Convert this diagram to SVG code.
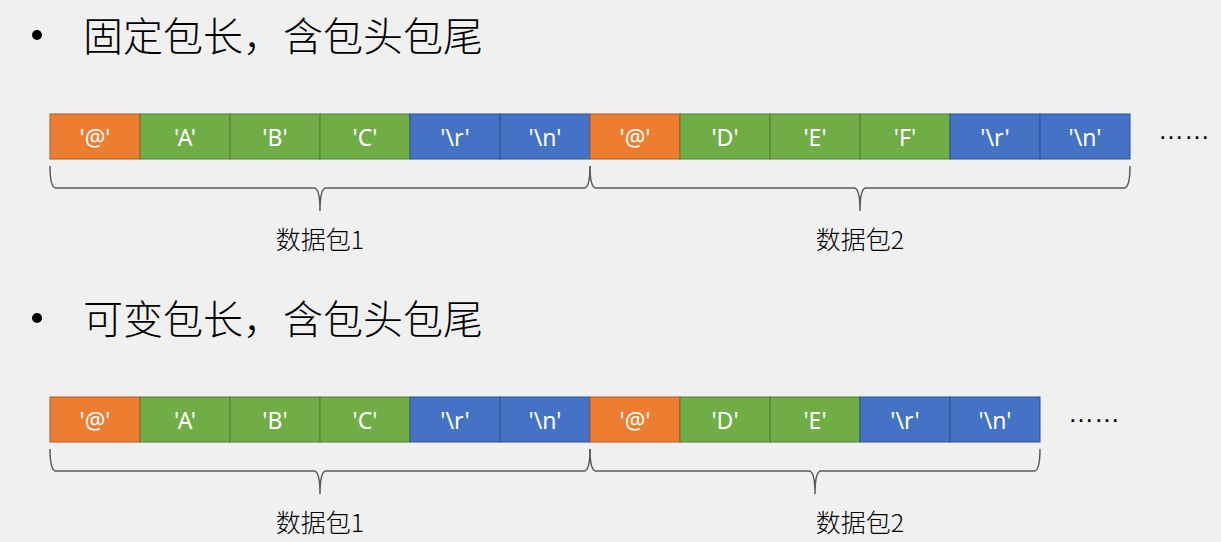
<svg xmlns="http://www.w3.org/2000/svg" width="1221" height="542" viewBox="0 0 1221 542">
<style>
.t{font-family:"Noto Sans CJK SC","Noto Sans",sans-serif;fill:#000;font-weight:300}
.h{font-size:40px}
.c{font-family:"Noto Sans","Liberation Sans",sans-serif;font-size:23px;fill:#fff;text-anchor:middle}
.l{font-family:"Noto Sans CJK SC","Noto Sans",sans-serif;font-size:25px;fill:#000;text-anchor:middle;font-weight:300}
.o{fill:#ED7D31;stroke:#AE5A21;stroke-width:1}
.g{fill:#70AD47;stroke:#507E32;stroke-width:1}
.b{fill:#4472C4;stroke:#2F528F;stroke-width:1}
.br{fill:none;stroke:#5a5a5a;stroke-width:1.5}
.d{font-family:"Liberation Sans",sans-serif;font-size:26px;fill:#000}
</style>
<rect width="1221" height="542" fill="#F0F0F0"/>
<g id="title1">
<circle cx="37" cy="35" r="5" fill="#000"/>
<text class="t h" x="83" y="51">固定包长，含包头包尾</text>
</g>
<g id="title2">
<circle cx="37" cy="318" r="5" fill="#000"/>
<text class="t h" x="83" y="334">可变包长，含包头包尾</text>
</g>
<g id="row1">
<g id="r1c1"><rect class="o" x="50" y="114" width="90" height="45"/><text class="c" x="95" y="146">'@'</text></g>
<g id="r1c2"><rect class="g" x="140" y="114" width="90" height="45"/><text class="c" x="185" y="146">'A'</text></g>
<g id="r1c3"><rect class="g" x="230" y="114" width="90" height="45"/><text class="c" x="275" y="146">'B'</text></g>
<g id="r1c4"><rect class="g" x="320" y="114" width="90" height="45"/><text class="c" x="365" y="146">'C'</text></g>
<g id="r1c5"><rect class="b" x="410" y="114" width="90" height="45"/><text class="c" x="455" y="146">'\r'</text></g>
<g id="r1c6"><rect class="b" x="500" y="114" width="90" height="45"/><text class="c" x="545" y="146">'\n'</text></g>
<g id="r1c7"><rect class="o" x="590" y="114" width="90" height="45"/><text class="c" x="635" y="146">'@'</text></g>
<g id="r1c8"><rect class="g" x="680" y="114" width="90" height="45"/><text class="c" x="725" y="146">'D'</text></g>
<g id="r1c9"><rect class="g" x="770" y="114" width="90" height="45"/><text class="c" x="815" y="146">'E'</text></g>
<g id="r1c10"><rect class="g" x="860" y="114" width="90" height="45"/><text class="c" x="905" y="146">'F'</text></g>
<g id="r1c11"><rect class="b" x="950" y="114" width="90" height="45"/><text class="c" x="995" y="146">'\r'</text></g>
<g id="r1c12"><rect class="b" x="1040" y="114" width="90" height="45"/><text class="c" x="1085" y="146">'\n'</text></g>
<text class="d" x="1158" y="139">……</text>
</g>
<g id="row2">
<g id="r2c1"><rect class="o" x="50" y="397" width="90" height="45"/><text class="c" x="95" y="429">'@'</text></g>
<g id="r2c2"><rect class="g" x="140" y="397" width="90" height="45"/><text class="c" x="185" y="429">'A'</text></g>
<g id="r2c3"><rect class="g" x="230" y="397" width="90" height="45"/><text class="c" x="275" y="429">'B'</text></g>
<g id="r2c4"><rect class="g" x="320" y="397" width="90" height="45"/><text class="c" x="365" y="429">'C'</text></g>
<g id="r2c5"><rect class="b" x="410" y="397" width="90" height="45"/><text class="c" x="455" y="429">'\r'</text></g>
<g id="r2c6"><rect class="b" x="500" y="397" width="90" height="45"/><text class="c" x="545" y="429">'\n'</text></g>
<g id="r2c7"><rect class="o" x="590" y="397" width="90" height="45"/><text class="c" x="635" y="429">'@'</text></g>
<g id="r2c8"><rect class="g" x="680" y="397" width="90" height="45"/><text class="c" x="725" y="429">'D'</text></g>
<g id="r2c9"><rect class="g" x="770" y="397" width="90" height="45"/><text class="c" x="815" y="429">'E'</text></g>
<g id="r2c10"><rect class="b" x="860" y="397" width="90" height="45"/><text class="c" x="905" y="429">'\r'</text></g>
<g id="r2c11"><rect class="b" x="950" y="397" width="90" height="45"/><text class="c" x="995" y="429">'\n'</text></g>
<text class="d" x="1068" y="422">……</text>
</g>
<g id="connectors">
<path class="br" d="M50,166 Q50,188 56,188 L314,188 Q320,188 320,211 Q320,188 326,188 L584,188 Q590,188 590,166"/>
<path class="br" d="M590,166 Q590,188 596,188 L854,188 Q860,188 860,211 Q860,188 866,188 L1124,188 Q1130,188 1130,166"/>
<path class="br" d="M50,449 Q50,471 56,471 L314,471 Q320,471 320,494 Q320,471 326,471 L584,471 Q590,471 590,449"/>
<path class="br" d="M590,449 Q590,471 596,471 L809,471 Q815,471 815,494 Q815,471 821,471 L1034,471 Q1040,471 1040,449"/>
</g>
<g id="labels">
<text class="l" x="320" y="249">数据包1</text>
<text class="l" x="860" y="249">数据包2</text>
<text class="l" x="320" y="532">数据包1</text>
<text class="l" x="860" y="532">数据包2</text>
</g>
</svg>
